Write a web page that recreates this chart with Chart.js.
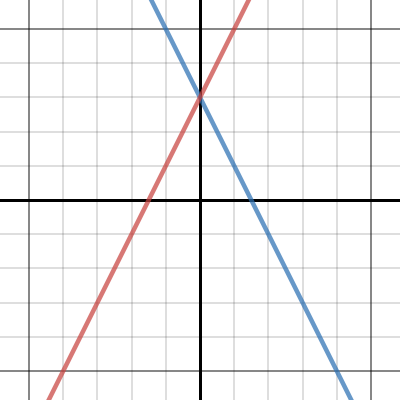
<!DOCTYPE html>
<html>
<head>
<meta charset="utf-8">
<style>
html,body{margin:0;padding:0;background:#fff;}
#wrap{width:400px;height:400px;}
</style>
<script src="https://cdn.jsdelivr.net/npm/chart.js@4"></script>
</head>
<body>
<div id="wrap"><canvas id="c" width="400" height="400"></canvas></div>
<script>
const xPoints = [-6, 6];
const redY = [-9, 15];   // y = 2x + 3
const blueY = [15, -9];  // y = -2x + 3
const gridValues = [-5, -4, -3, -2, -1, 0, 1, 2, 3, 4, 5];
const axisMin = -5.85;
const axisMax = 5.85;

function gridColor(ctx){
  const v = ctx.tick ? ctx.tick.value : null;
  if (v === 0) return '#000';
  if (v !== null && Math.abs(v % 5) < 1e-9) return 'rgba(0,0,0,0.47)';
  return 'rgba(0,0,0,0.13)';
}
function gridWidth(ctx){
  const v = ctx.tick ? ctx.tick.value : null;
  if (v === 0) return 3;
  return 2;
}
function makeScale(){
  return {
    type: 'linear',
    min: axisMin,
    max: axisMax,
    afterBuildTicks: (scale) => { scale.ticks = gridValues.map(v => ({ value: v })); },
    ticks: { display: false, autoSkip: false },
    grid: { color: gridColor, lineWidth: gridWidth, drawTicks: false },
    border: { display: false }
  };
}

new Chart(document.getElementById('c'), {
  type: 'scatter',
  data: {
    datasets: [
      {
        data: xPoints.map((x, i) => ({ x: x, y: redY[i] })),
        showLine: true,
        borderColor: 'rgba(199,68,64,0.72)',
        borderWidth: 4.5,
        pointRadius: 0,
        fill: false
      },
      {
        data: xPoints.map((x, i) => ({ x: x, y: blueY[i] })),
        showLine: true,
        borderColor: 'rgba(45,112,179,0.72)',
        borderWidth: 4.5,
        pointRadius: 0,
        fill: false
      }
    ]
  },
  options: {
    responsive: false,
    animation: false,
    layout: { padding: 0 },
    plugins: { legend: { display: false }, tooltip: { enabled: false } },
    scales: { x: makeScale(), y: makeScale() }
  }
});
</script>
</body>
</html>
